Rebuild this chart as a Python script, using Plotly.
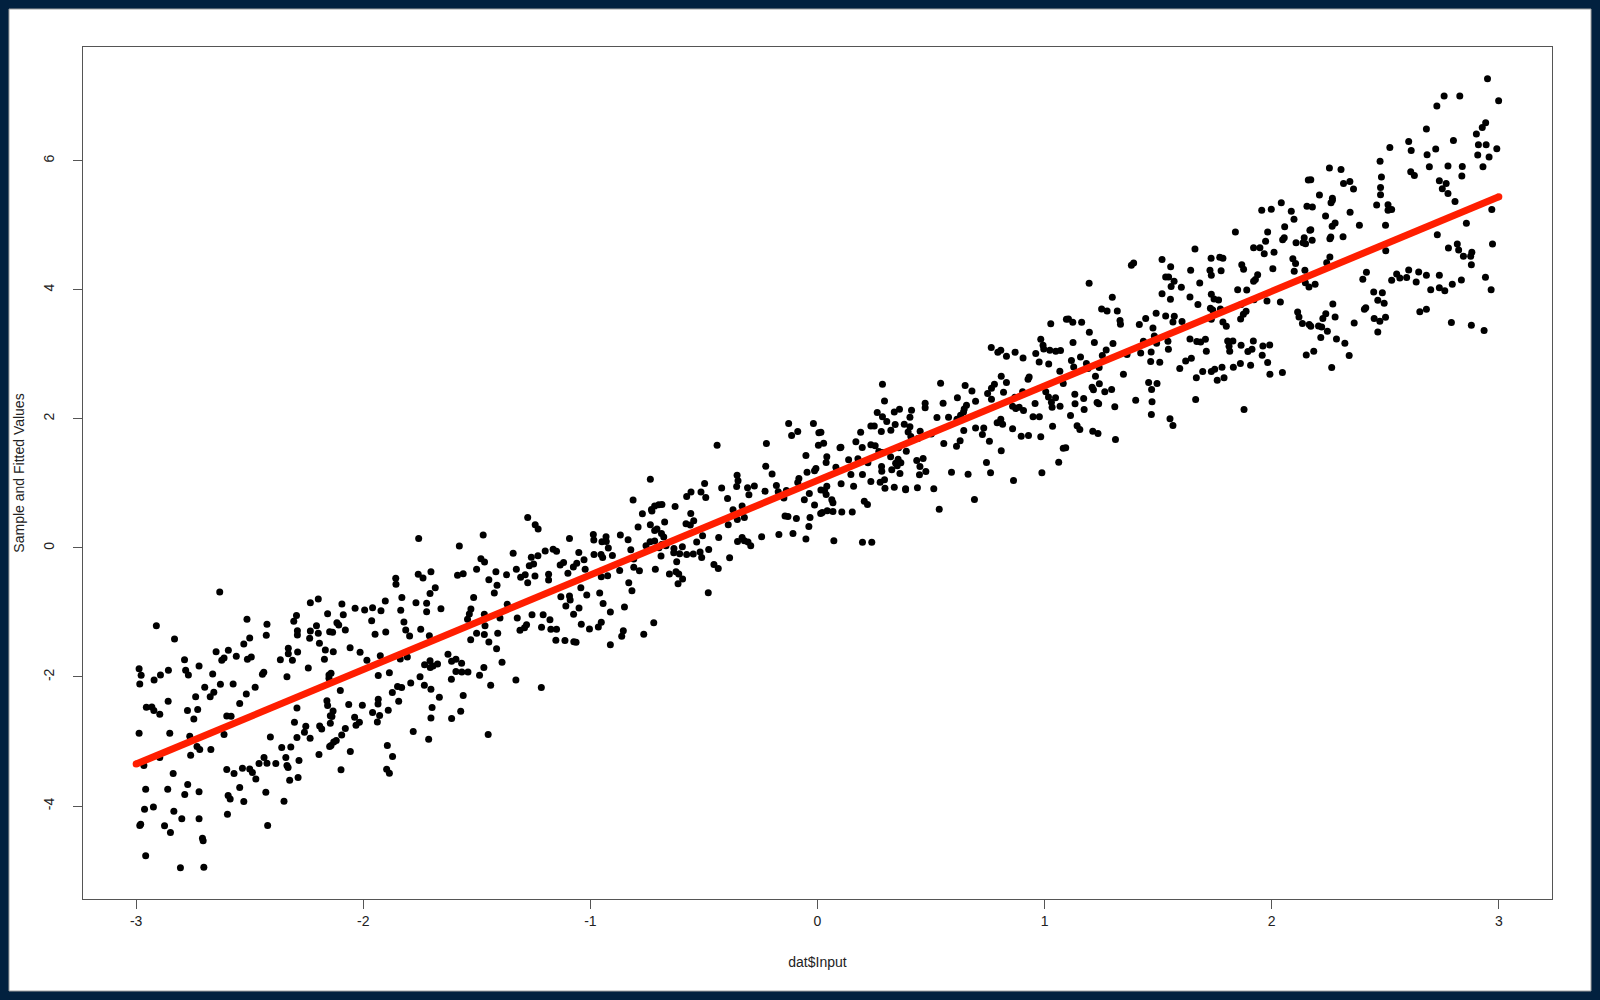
import plotly.graph_objects as go

# ---- sample points, grouped by x-region ----
region_1 = [
    (-2.632,-0.684),(-2.198,-0.793),(-2.233,-0.85),(-2.911,-1.206),(-2.512,-1.107),(-2.294,-1.046),(-2.306,-1.138),
    (-2.424,-1.185),(-2.157,-1.02),(-2.831,-1.412),(-2.500,-1.396),(-2.427,-1.355),(-2.526,-1.489),(-2.290,-1.283),
    (-2.290,-1.35),(-2.233,-1.288),(-2.206,-1.206),(-2.198,-1.324),(-2.236,-1.402),(-2.148,-1.298),
    (-2.594,-1.587),(-2.648,-1.608),(-2.559,-1.68),(-2.623,-1.742),(-2.613,-1.706),(-2.510,-1.727),(-2.493,-1.691),
    (-2.787,-1.732),(-2.330,-1.556),(-2.330,-1.639),(-2.289,-1.613),(-2.365,-1.732),(-2.312,-1.742),(-2.193,-1.479),
    (-2.167,-1.582),(-2.171,-1.727),
    (-2.987,-1.871),(-2.978,-1.974),(-2.984,-2.109),(-2.921,-2.047),(-2.893,-1.969),(-2.858,-1.897),(-2.782,-1.897),
    (-2.770,-1.969),(-2.723,-1.83),(-2.663,-1.954),(-2.438,-1.928),(-2.444,-1.959),(-2.336,-1.995),(-2.242,-1.861),
    (-2.151,-1.969),(-2.151,-2.021),
    (-2.698,-2.16),(-2.674,-2.305),(-2.658,-2.238),(-2.629,-2.114),(-2.573,-2.109),(-2.476,-2.16),(-2.515,-2.263),(-2.738,-2.305),
    (-2.955,-2.47),(-2.931,-2.465),(-2.922,-2.521),(-2.896,-2.578),(-2.859,-2.377),(-2.774,-2.521),(-2.729,-2.506),
    (-2.746,-2.65),(-2.601,-2.604),(-2.582,-2.609),(-2.544,-2.413),(-2.292,-2.48),(-2.160,-2.367),(-2.157,-2.444),(-2.145,-2.599),
    (-2.987,-2.872),(-2.852,-2.872),(-2.764,-2.919),(-2.613,-2.893),(-2.409,-2.929),(-2.303,-2.702),(-2.253,-2.764),
    (-2.259,-2.857),(-2.292,-2.939),(-2.234,-2.95),(-2.192,-2.759),(-2.183,-2.805),(-2.145,-2.717),
    (-2.732,-3.079),(-2.720,-3.125),(-2.671,-3.125),(-2.760,-3.213),(-2.359,-3.094),(-2.319,-3.084),(-2.341,-3.249),
    (-2.437,-3.249),(-2.459,-3.342),(-2.424,-3.337),(-2.385,-3.342),(-2.336,-3.373),(-2.331,-3.404),(-2.283,-3.295),
    (-2.195,-3.202),(-2.148,-3.079),
    (-2.966,-3.373),(-2.896,-3.249),
    (-2.601,-3.435),(-2.569,-3.497),(-2.532,-3.414),(-2.500,-3.424),(-2.488,-3.481),(-2.473,-3.579),(-2.324,-3.6),
    (-2.287,-3.559),(-2.837,-3.497),
    (-2.958,-3.739),(-2.861,-3.739),(-2.786,-3.822),(-2.773,-3.667),(-2.723,-3.78),(-2.544,-3.713),(-2.429,-3.786),
    (-2.595,-3.837),(-2.586,-3.889),(-2.526,-3.93),(-2.349,-3.925),
    (-2.963,-4.049),(-2.924,-4.013),(-2.834,-4.08),(-2.799,-4.198),(-2.723,-4.198),(-2.598,-4.126),(-2.421,-4.302),
    (-2.984,-4.302),(-2.980,-4.281),(-2.875,-4.307),(-2.849,-4.41),(-2.708,-4.498),(-2.705,-4.539),
    (-2.958,-4.771),(-2.805,-4.957),(-2.702,-4.947),
]

region_2 = [
    (-1.276,0.470),(-1.243,0.358),(-1.230,0.291),(-1.472,0.198),(-1.756,0.147),(-1.092,0.147),(-1.577,0.028),
    (-1.340,-0.085),(-1.260,-0.147),(-1.231,-0.122),(-1.199,-0.049),(-1.164,-0.023),(-1.149,-0.054),(-1.482,-0.168),
    (-1.466,-0.220),(-1.857,-0.472),(-1.856,-0.565),(-1.758,-0.410),(-1.737,-0.467),(-1.702,-0.369),(-1.585,-0.426),
    (-1.560,-0.400),(-1.501,-0.333),(-1.416,-0.369),(-1.369,-0.416),(-1.326,-0.333),(-1.307,-0.457),(-1.287,-0.416),
    (-1.269,-0.276),(-1.250,-0.251),(-1.244,-0.436),(-1.276,-0.539),(-1.184,-0.410),(-1.184,-0.498),(-1.133,-0.266),
    (-1.118,-0.225),(-1.099,-0.395),(-1.075,-0.297),
    (-1.447,-0.493),(-1.411,-0.581),(-1.423,-0.699),(-1.683,-0.617),(-1.706,-0.705),(-1.830,-0.767),(-1.903,-0.823),
    (-2.094,-0.870),(-2.036,-0.937),(-1.994,-0.963),(-1.959,-0.926),(-1.922,-0.973),(-1.835,-0.968),(-1.768,-0.849),
    (-1.721,-0.859),(-1.721,-0.988),(-1.658,-0.942),(-2.088,-1.035),(-1.514,-0.767),(-1.526,-0.947),(-1.533,-1.025),
    (-1.541,-1.107),(-1.467,-1.030),(-1.366,-0.875),(-1.398,-1.086),(-1.130,-0.756),(-1.092,-0.746),(-1.108,-0.901),
    (-1.089,-0.808),(-1.074,-1.030),(-1.257,-1.035),(-1.322,-1.086),(-1.208,-1.035),
    (-2.116,-1.159),(-2.108,-1.195),(-2.079,-1.272),(-1.963,-1.128),(-1.948,-1.339),(-1.901,-1.303),(-1.821,-1.148),
    (-1.813,-1.272),(-1.796,-1.365),(-1.747,-1.262),(-1.709,-1.360),(-2.135,-1.308),(-1.527,-1.422),(-1.501,-1.324),
    (-1.464,-1.205),(-1.467,-1.344),(-1.408,-1.324),(-1.447,-1.458),(-1.281,-1.190),(-1.290,-1.236),(-1.310,-1.277),
    (-1.215,-1.231),(-1.178,-1.112),(-1.174,-1.262),(-1.149,-1.262),(-1.152,-1.432),(-1.112,-1.437),(-1.073,-1.453),
    (-2.058,-1.546),(-2.132,-1.608),(-2.014,-1.618),(-1.984,-1.742),(-1.925,-1.670),(-1.837,-1.721),(-1.806,-1.690),
    (-1.627,-1.649),(-1.611,-1.757),(-1.592,-1.726),(-1.567,-1.788),(-1.592,-1.917),(-1.566,-1.922),(-1.539,-1.922),
    (-1.469,-1.855),(-1.488,-1.974),(-1.413,-1.561),(-1.389,-1.773),(-1.328,-2.046),(-1.216,-2.165),(-1.439,-2.129),
    (-1.934,-1.979),(-1.885,-1.933),(-1.791,-2.093),(-1.750,-1.995),(-1.730,-1.809),(-1.706,-1.747),(-1.705,-1.855),
    (-1.693,-1.829),(-1.673,-1.799),(-1.612,-2.036),(-1.731,-2.129),(-1.702,-2.191),(-1.849,-2.149),(-1.831,-2.165),
    (-1.872,-2.242),(-2.101,-2.211),(-2.142,-1.943),
    (-2.064,-2.428),(-2.004,-2.438),(-1.934,-2.345),(-1.935,-2.418),(-1.844,-2.376),(-1.665,-2.315),(-1.560,-2.289),
    (-1.697,-2.474),(-1.702,-2.634),(-1.611,-2.645),(-1.571,-2.531),
    (-2.133,-2.526),(-2.138,-2.614),(-2.038,-2.624),(-2.017,-2.702),(-2.032,-2.748),(-1.959,-2.552),(-1.928,-2.598),
    (-1.938,-2.696),(-1.890,-2.516),(-2.079,-2.800),(-2.095,-2.898),(-2.119,-2.985),(-2.130,-3.006),(-2.142,-3.063),
    (-1.780,-2.846),(-1.712,-2.965),(-1.450,-2.892),
    (-2.057,-3.156),(-1.894,-3.063),(-1.871,-3.233),(-2.098,-3.439),(-1.897,-3.429),(-1.885,-3.491),
]

region_3 = [
    (-0.127,1.927),(-0.018,1.927),(-0.114,1.741),(-0.087,1.803),(0.006,1.782),(-0.442,1.591),(-0.225,1.617),(0.004,1.591),
    (-0.051,1.431),(-0.228,1.266),(-0.200,1.143),(-0.046,1.173),(-0.013,1.194),(-0.007,1.230),(-0.082,1.075),(-0.087,1.013),
    (-0.736,1.065),
    (-0.354,1.127),(-0.350,1.039),(-0.497,0.998),(-0.513,0.864),(-0.492,0.781),(-0.422,0.926),(-0.356,0.952),(-0.308,0.931),
    (-0.278,0.957),(-0.302,0.823),(-0.231,0.879),(-0.181,0.967),(-0.173,0.869),(-0.137,0.890),(-0.148,0.771),(-0.058,0.745),
    (-0.013,0.663),(-0.036,0.843),(0.015,0.895),
    (-0.812,0.740),(-0.576,0.797),(-0.557,0.864),(-0.627,0.642),(-0.731,0.596),(-0.717,0.647),(-0.699,0.668),(-0.685,0.673),
    (-0.771,0.528),(-0.729,0.570),(-0.558,0.534),(-0.396,0.766),(-0.372,0.590),(-0.332,0.647),(-0.353,0.441),(-0.322,0.472),
    (-0.393,0.358),(-0.545,0.420),(-0.579,0.374),(-0.560,0.353),(-0.736,0.358),(-0.790,0.322),(-0.673,0.399),(-0.143,0.492),
    (-0.130,0.487),(-0.093,0.456),(-0.033,0.472),(-0.038,0.332),(0.014,0.534),
    (-0.987,0.209),(-0.985,0.121),(-0.949,0.095),(-0.931,0.172),(-0.930,0.100),(-0.921,-0.003),(-0.868,0.198),(-0.834,0.126),
    (-0.717,0.270),(-0.707,0.291),(-0.687,0.224),(-0.677,0.167),(-0.717,0.105),(-0.686,0.054),(-0.667,0.033),(-0.506,0.188),
    (-0.435,0.162),(-0.352,0.100),(-0.332,0.162),(-0.322,0.110),(-0.306,0.090),(-0.294,0.033),(-0.246,0.172),(-0.170,0.209),
    (-0.108,0.224),(-0.051,0.136),
    (-1.051,-0.070),(-1.028,-0.184),(-0.984,-0.101),(-0.953,-0.101),(-0.946,-0.148),(-0.903,-0.117),(-0.822,-0.029),
    (-0.755,0.033),(-0.737,0.095),(-0.698,0.002),(-0.632,-0.008),(-0.595,0.018),(-0.532,0.090),(-0.633,-0.075),(-0.607,-0.091),
    (-0.576,-0.101),(-0.547,-0.096),(-0.517,-0.065),(-0.510,-0.148),(-0.479,-0.024),(-0.689,-0.127),(-0.620,-0.215),(-0.387,-0.153),
    (-1.060,-0.240),(-1.023,-0.333),(-0.952,-0.447),(-0.924,-0.431),(-0.871,-0.349),(-0.809,-0.302),(-0.784,-0.354),
    (-0.714,-0.333),(-0.652,-0.406),(-0.623,-0.369),(-0.611,-0.406),(-0.456,-0.256),(-0.437,-0.318),(-0.809,-0.173),
    (-1.042,-0.617),(-1.016,-0.731),(-0.959,-0.700),(-0.944,-0.860),(-1.050,-0.932),(-0.912,-0.994),(-0.850,-0.916),
    (-0.831,-0.540),(-0.817,-0.664),(-0.594,-0.483),(-0.614,-0.555),(-0.481,-0.694),
    (-1.040,-1.185),(-1.004,-1.257),(-0.965,-1.226),(-0.952,-1.154),(-0.855,-1.283),(-0.862,-1.370),(-0.721,-1.159),
    (-0.765,-1.339),(-0.912,-1.499),(-1.063,-1.463),
]

region_4 = [
    (1.027,3.474),(1.096,3.541),(0.983,3.232),(0.993,3.139),(0.765,3.103),(0.794,3.031),(0.807,3.062),(0.832,2.969),
    (0.870,3.031),(0.905,2.943),(0.961,3.010),(0.976,2.881),(0.996,3.082),(1.023,3.062),(1.049,3.046),(1.070,3.056),
    (1.018,2.850),(1.067,2.737),
    (0.286,2.535),(0.542,2.551),(0.650,2.515),(0.680,2.432),(0.616,2.324),(0.696,2.272),(0.809,2.659),(0.832,2.561),
    (0.779,2.535),(0.766,2.473),(0.749,2.391),(0.766,2.303),(0.819,2.411),(0.932,2.649),(0.927,2.613),(0.903,2.417),
    (0.958,2.236),(1.005,2.417),(1.017,2.339),(1.030,2.257),(1.048,2.324),(1.033,2.179),(1.068,2.195),(1.082,2.546),
    (0.295,2.277),(0.263,2.097),(0.286,2.030),(0.305,1.957),(0.338,2.107),(0.361,2.148),(0.414,2.133),(0.407,2.024),
    (0.474,2.241),(0.474,2.169),(0.553,2.241),(0.526,2.019),(0.577,2.024),(0.614,1.993),(0.643,2.107),(0.656,2.210),
    (0.646,2.153),(0.630,2.055),(0.696,1.859),(0.732,1.859),(0.869,2.334),(0.859,2.195),(0.873,2.159),(0.888,2.179),
    (0.907,2.128),(0.949,2.030),(0.977,2.030),(0.983,1.720),(1.035,1.885),(1.082,1.545),(1.062,1.328),
    (0.235,1.890),(0.250,1.890),(0.190,1.792),(0.281,1.803),(0.323,1.823),(0.342,1.911),(0.382,1.916),(0.407,1.875),
    (0.399,1.797),(0.452,1.808),(0.442,1.694),(0.411,1.725),(0.501,1.766),(0.644,1.818),(0.726,1.756),(0.757,1.653),
    (0.791,1.937),(0.807,1.993),(0.815,1.916),(0.859,1.844),(0.897,1.730),(0.929,1.741),(0.556,1.617),(0.628,1.658),
    (0.612,1.576),
    (0.169,1.643),(0.197,1.555),(0.235,1.596),(0.254,1.581),(0.270,1.493),(0.099,1.550),(0.103,1.560),(0.015,1.792),
    (0.027,1.622),(0.041,1.410),(0.038,1.323),(0.081,1.250),(0.137,1.364),(0.178,1.379),(0.222,1.318),(0.286,1.477),
    (0.282,1.261),(0.391,1.498),(0.357,1.550),(0.355,1.374),(0.367,1.318),(0.322,1.410),(0.327,1.209),(0.351,1.271),
    (0.344,1.312),(0.437,1.354),(0.465,1.385),(0.451,1.261),(0.477,1.183),(0.449,1.132),(0.363,1.152),(0.283,1.189),
    (0.809,1.503),(0.744,1.323),(0.590,1.173),(0.663,1.142),(0.762,1.163),(0.863,1.044),(0.988,1.163),(0.147,1.137),
    (0.198,1.137),(0.104,0.992),(0.159,0.956),(0.235,1.029),(0.276,1.018),(0.295,1.054),(0.297,0.925),(0.338,0.941),
    (0.388,0.915),(0.388,0.900),(0.440,0.930),(0.512,0.915),(0.041,0.956),(0.031,0.889),(0.038,0.827),(0.063,0.745),
    (0.068,0.698),(0.206,0.724),(0.220,0.673),(0.021,0.549),(0.043,0.574),(0.068,0.564),(0.107,0.554),(0.153,0.554),
    (0.536,0.600),(0.691,0.750),
    (0.072,0.110),(0.198,0.089),(0.239,0.089),
]

region_5 = [
    (2.161,5.699),(2.042,5.348),(1.956,5.229),(1.998,5.245),(2.086,5.214),(2.155,5.291),(2.098,5.090),(1.840,4.894),
    (1.982,4.894),(2.057,4.976),(2.055,4.806),(2.048,4.775),(2.107,4.729),(1.973,4.749),(2.143,4.806),(2.138,4.729),
    (2.149,4.713),(2.168,4.920),
    (1.662,4.631),(1.920,4.651),(1.948,4.651),(1.967,4.558),(2.010,4.579),(1.517,4.466),(1.392,4.414),(1.382,4.378),
    (1.555,4.357),(1.643,4.300),(1.733,4.486),(1.771,4.502),(1.785,4.486),(1.777,4.295),(1.728,4.300),(1.734,4.223),
    (1.868,4.388),(1.876,4.316),(2.005,4.326),(2.093,4.481),(2.105,4.404),(2.099,4.285),(2.146,4.300),(1.938,4.233),
    (1.928,4.156),(1.920,4.130),
    (1.196,4.099),(1.298,3.882),(1.251,3.702),(1.275,3.671),(1.320,3.671),(1.533,4.197),(1.546,4.197),(1.570,4.130),
    (1.557,4.048),(1.602,4.037),(1.683,4.104),(1.517,3.939),(1.554,3.851),(1.640,3.888),(1.675,3.769),(1.734,3.929),
    (1.746,3.857),(1.766,3.841),(1.730,3.712),(1.740,3.686),(1.774,3.702),(1.850,4.001),(1.890,3.996),(1.922,3.846),
    (1.979,3.826),(2.038,3.810),(1.865,3.769),(1.887,3.666),(1.875,3.619),(1.863,3.547),(2.114,3.655),(2.120,3.578),
    (2.148,4.109),(2.164,4.042),(2.135,3.475),(2.165,3.459),
    (1.105,3.547),(1.124,3.495),(1.163,3.495),(1.197,3.341),(1.332,3.521),(1.334,3.464),(1.417,3.459),(1.445,3.552),
    (1.491,3.635),(1.533,3.594),(1.571,3.588),(1.565,3.501),(1.605,3.506),(1.477,3.408),(1.483,3.284),(1.785,3.501),
    (1.800,3.434),(1.734,3.542),
    (1.125,3.181),(1.219,3.181),(1.301,3.165),(1.271,3.067),(1.254,2.979),(1.158,2.959),(1.118,2.902),(1.128,2.804),
    (1.191,2.778),(1.184,2.856),(1.240,2.794),(1.363,2.995),(1.347,2.690),(1.435,3.201),(1.423,3.021),(1.469,3.036),
    (1.493,3.170),(1.467,2.887),(1.507,2.876),(1.545,3.078),(1.543,3.201),(1.640,3.237),(1.670,3.196),(1.708,3.232),
    (1.687,3.191),(1.712,3.047),(1.646,2.938),(1.621,2.897),(1.595,2.778),(1.806,3.206),(1.829,3.206),(1.812,3.124),
    (1.815,3.047),(1.865,3.139),(1.919,3.206),(1.895,3.041),(1.913,3.078),(1.961,3.129),(1.991,3.145),(1.958,2.985),
    (1.862,2.856),(1.907,2.830),(1.982,2.871),(2.047,2.716),(1.992,2.690),(2.152,2.990),
    (1.696,2.732),(1.734,2.732),(1.749,2.768),(1.781,2.799),(1.760,2.598),(1.790,2.634),(1.831,2.799),(1.668,2.634),
    (1.458,2.562),(1.471,2.453),(1.495,2.546),(1.224,2.660),(1.209,2.489),(1.215,2.448),(1.265,2.417),(1.295,2.453),
    (1.241,2.541),(1.133,2.381),(1.172,2.314),(1.174,2.144),(1.134,2.231),(1.114,2.051),(1.231,2.252),(1.238,2.231),
    (1.309,2.185),(1.401,2.288),(1.473,2.262),(1.470,2.066),(1.665,2.298),(1.878,2.144),(1.093,1.550),
    (1.143,1.891),(1.155,1.834),(1.212,1.808),(1.235,1.772),(1.312,1.679),(1.552,2.000),(1.565,1.896),
]

region_6 = [
    (2.950,7.267),(2.999,6.927),(2.759,6.999),(2.828,6.999),(2.727,6.844),(2.681,6.488),(2.942,6.586),(2.927,6.514),
    (2.901,6.411),(2.800,6.313),(2.603,6.297),(2.614,6.158),(2.520,6.204),(2.722,6.178),(2.684,6.091),(2.910,6.246),
    (2.944,6.246),(2.991,6.184),(2.907,6.086),(2.957,6.055),(2.930,5.905),(2.694,5.905),(2.776,5.915),(2.839,5.910),
    (2.837,5.760),(2.612,5.828),(2.628,5.771),(2.254,5.884),(2.305,5.864),(2.477,5.988),(2.483,5.745),(2.479,5.585),
    (2.479,5.471),(2.316,5.647),(2.344,5.678),(2.360,5.559),(2.172,5.704),
    (2.210,5.466),(2.267,5.415),(2.261,5.348),(2.267,5.384),(2.179,5.281),(2.237,5.141),(2.345,5.198),(2.279,5.033),
    (2.266,4.981),(2.314,4.821),(2.260,4.816),(2.256,4.790),(2.386,4.997),(2.462,5.312),(2.512,5.317),(2.512,5.229),
    (2.528,5.244),(2.501,4.997),(2.738,5.688),(2.751,5.564),(2.768,5.647),(2.776,5.492),(2.807,5.368),(2.857,5.028),
    (2.969,5.244),(2.172,4.930),(2.178,4.765),
    (2.729,4.852),(2.502,4.605),(2.778,4.646),(2.817,4.708),(2.823,4.615),(2.844,4.517),(2.881,4.579),(2.876,4.517),
    (2.879,4.388),(2.972,4.708),(2.256,4.507),(2.242,4.419),(2.191,4.083),(2.401,4.161),(2.417,4.269),(2.449,3.965),
    (2.487,3.954),(2.467,3.836),(2.495,3.789),(2.528,4.145),(2.550,4.243),(2.564,4.181),(2.603,4.305),(2.594,4.187),
    (2.636,4.120),(2.647,4.274),(2.681,4.223),(2.700,4.001),(2.738,4.223),(2.738,4.032),(2.762,3.985),(2.795,4.083),
    (2.835,4.151),(2.941,4.192),(2.966,4.001),
    (2.269,3.779),(2.238,3.629),(2.225,3.552),(2.279,3.578),(2.408,3.696),(2.414,3.722),(2.451,3.552),(2.476,3.511),
    (2.501,3.573),(2.467,3.346),(2.363,3.485),(2.652,3.660),(2.681,3.696),(2.791,3.490),(2.879,3.449),(2.935,3.366),
    (2.172,3.433),(2.206,3.438),(2.220,3.423),(2.245,3.356),(2.216,3.258),(2.285,3.237),(2.322,3.170),(2.341,2.979),
    (2.185,3.046),(2.264,2.793),
]

# fitted line end points
fit_x = [-3.0, 3.0]
fit_y = [-3.35, 5.44]

x_tick_vals = [-3, -2, -1, 0, 1, 2, 3]
x_tick_text = ["-3", "-2", "-1", "0", "1", "2", "3"]
y_tick_vals = [-4, -2, 0, 2, 4, 6]
y_tick_text = ["-4", "-2", "0", "2", "4", "6"]

samples = region_1 + region_2 + region_3 + region_4 + region_5 + region_6
sample_x = [p[0] for p in samples]
sample_y = [p[1] for p in samples]

FONT = "Arial, 'Liberation Sans', Helvetica, sans-serif"
NAVY = "#02213f"

fig = go.Figure()
fig.add_trace(go.Scatter(
    x=sample_x, y=sample_y, mode="markers",
    marker=dict(color="black", size=7, line=dict(width=0)),
    showlegend=False, hoverinfo="skip"))
fig.add_trace(go.Scatter(
    x=fit_x, y=fit_y, mode="lines+markers",
    line=dict(color="#ff1e00", width=7),
    marker=dict(color="#ff1e00", size=7),
    showlegend=False, hoverinfo="skip"))

axis_common = dict(
    showgrid=False, zeroline=False, showline=True, mirror=True,
    linecolor="#555555", linewidth=1,
    ticks="outside", ticklen=9, tickwidth=1, tickcolor="#555555",
    tickfont=dict(family=FONT, size=14, color="#222222"),
)

fig.update_layout(
    width=1600, height=1000,
    margin=dict(l=83, r=48, t=47, b=101, pad=0),
    paper_bgcolor=NAVY, plot_bgcolor="white",
    font=dict(family=FONT, size=14, color="#222222"),
    xaxis=dict(range=[-3.234, 3.234], tickmode="array", tickvals=x_tick_vals, ticktext=x_tick_text,
               title=dict(text="dat$Input", font=dict(family=FONT, size=14, color="#222222"), standoff=29),
               automargin=False, **axis_common),
    yaxis=dict(range=[-5.44, 7.76], tickmode="array", tickvals=y_tick_vals, ticktext=y_tick_text,
               tickangle=-90, ticklabelstandoff=13,
               title=dict(text="Sample and Fitted Values", font=dict(family=FONT, size=14, color="#222222"), standoff=13),
               automargin=False, **axis_common),
    shapes=[dict(type="rect", xref="paper", yref="paper", layer="below",
                 x0=(9 - 83) / 1469, x1=(1591 - 83) / 1469,
                 y0=(899 - 991) / 852, y1=(899 - 9) / 852,
                 fillcolor="white", line=dict(color="#a0a0a0", width=1))],
)

fig.write_html("out.html", config={"displayModeBar": False},
               post_script="document.body.style.margin='0px';")
